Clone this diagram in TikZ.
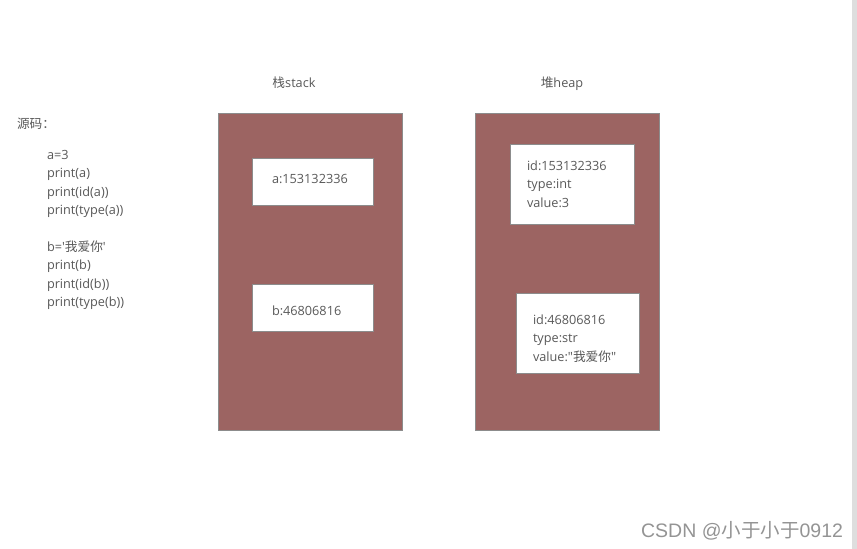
\documentclass[tikz,border=0pt]{standalone}
\usepackage{fontspec}
\setmainfont{Noto Sans CJK SC}
\newfontfamily\cjk{Noto Sans CJK SC}
\newfontfamily\lat{Open Sans}
\newfontfamily\wmlat{Liberation Sans}
\definecolor{memfill}{HTML}{9C6462}
\definecolor{txt}{HTML}{595959}
\definecolor{edge}{HTML}{8C8C8C}
\begin{document}
\begin{tikzpicture}[x=1pt,y=-1pt,
  every node/.style={inner sep=0pt,outer sep=0pt},
  mem/.style={draw=edge,line width=0.8pt,fill=memfill},
  cell/.style={draw=edge,line width=0.8pt,fill=white},
  lbl/.style={font=\fontsize{12.7}{18.5}\selectfont\lat,text=txt,anchor=west,text height=9pt,text depth=3pt}]
\fill[white] (0,0) rectangle (857,549);
\fill[black!13] (852,0) rectangle (857,549);
\useasboundingbox (0,0) rectangle (857,549);
% titles
\node[lbl,anchor=center] (tstack) at (294,84) {{\cjk 栈}stack};
\node[lbl,anchor=center] (theap) at (562,84) {{\cjk 堆}heap};
% source
\node[lbl] (src) at (17,125) {\cjk 源码：};
\node[lbl] (c1) at (47,156) {a=3};
\node[lbl] (c2) at (47,174.5) {print(a)};
\node[lbl] (c3) at (47,193) {print(id(a))};
\node[lbl] (c4) at (47,211.5) {print(type(a))};
\node[lbl] (c5) at (47,248) {b='{\cjk 我爱你}'};
\node[lbl] (c6) at (47,266.5) {print(b)};
\node[lbl] (c7) at (47,285) {print(id(b))};
\node[lbl] (c8) at (47,303.5) {print(type(b))};
% stack
\draw[mem] (218,113) rectangle (402,430);
\node[cell,minimum width=121pt,minimum height=47pt,anchor=north west] (sa) at (252,158) {};
\node[lbl] (sat) at (272,180) {a:153132336};
\node[cell,minimum width=121pt,minimum height=47pt,anchor=north west] (sb) at (252,284) {};
\node[lbl] (sbt) at (272,312) {b:46806816};
% heap
\draw[mem] (475,113) rectangle (659,430);
\node[cell,minimum width=124pt,minimum height=80pt,anchor=north west] (ha) at (510,144) {};
\node[lbl] (ha1) at (527,167) {id:153132336};
\node[lbl] (ha2) at (527,185.5) {type:int};
\node[lbl] (ha3) at (527,204) {value:3};
\node[cell,minimum width=123pt,minimum height=80pt,anchor=north west] (hb) at (516,293) {};
\node[lbl] (hb1) at (533,321) {id:46806816};
\node[lbl] (hb2) at (533,339.5) {type:str};
\node[lbl] (hb3) at (533,358) {value:"{\cjk 我爱你}"};
% watermark
\node[font=\fontsize{19.5}{22}\selectfont\wmlat,text=black!42,anchor=east] (wm) at (843,530.5) {CSDN @{\cjk 小于小于}0912};
\end{tikzpicture}
\end{document}
